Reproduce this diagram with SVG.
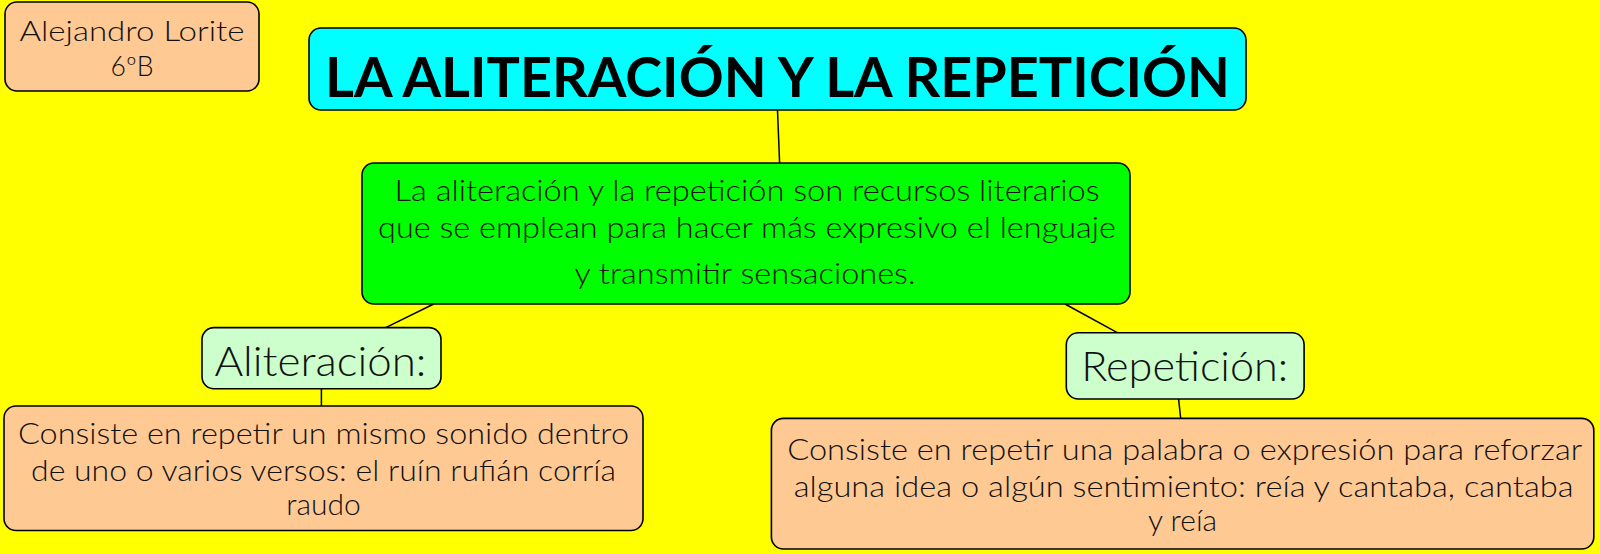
<svg xmlns="http://www.w3.org/2000/svg" width="1600" height="554" viewBox="0 0 1600 554">
<style>
.box{stroke:#000;stroke-width:1.6}
.t{font-family:Lato,"Open Sans","DejaVu Sans",sans-serif;font-weight:300;fill:#111;text-anchor:middle}
.title{font-family:Lato,"Open Sans","DejaVu Sans",sans-serif;font-weight:700;fill:#000;text-anchor:middle}
.ln{stroke:#000;stroke-width:1.5;fill:none}
</style>
<rect width="1600" height="554" fill="#ffff00"/>
<g id="connectors">
<line class="ln" x1="777.5" y1="110" x2="779.6" y2="163"/>
<line class="ln" x1="433.7" y1="304" x2="385.7" y2="327.6"/>
<line class="ln" x1="321.4" y1="388.8" x2="321.4" y2="406"/>
<line class="ln" x1="1065" y1="304" x2="1117.3" y2="332.7"/>
<line class="ln" x1="1178.6" y1="399" x2="1180.7" y2="418.4"/>
</g>
<g id="author">
<rect class="box" x="5" y="2" width="254" height="89" rx="12" fill="#ffc994"/>
<text class="t" x="132" y="41" font-size="26.5" textLength="225" lengthAdjust="spacingAndGlyphs">Alejandro Lorite</text>
<text class="t" x="132" y="76" font-size="26.5">6ºB</text>
</g>
<g id="title">
<rect class="box" x="309" y="28" width="937" height="82" rx="12" fill="#00ffff"/>
<text class="title" x="777.5" y="97" font-size="56" textLength="905" lengthAdjust="spacingAndGlyphs">LA ALITERACIÓN Y LA REPETICIÓN</text>
</g>
<g id="definition">
<rect class="box" x="362" y="163" width="768" height="141" rx="12" fill="#00ff00"/>
<text class="t" x="747" y="201" font-size="28.5" textLength="705" lengthAdjust="spacingAndGlyphs">La aliteración y la repetición son recursos literarios</text>
<text class="t" x="747" y="238" font-size="28.5" textLength="738" lengthAdjust="spacingAndGlyphs">que se emplean para hacer más expresivo el lenguaje</text>
<text class="t" x="745" y="284" font-size="28.5" textLength="341" lengthAdjust="spacingAndGlyphs">y transmitir sensaciones.</text>
</g>
<g id="aliteracion">
<rect class="box" x="202" y="327.6" width="239" height="61.2" rx="12" fill="#ccffcc"/>
<text class="t" x="320.4" y="375.5" font-size="41" textLength="212" lengthAdjust="spacingAndGlyphs">Aliteración:</text>
</g>
<g id="aliteracion-def">
<rect class="box" x="4" y="406" width="639" height="124.5" rx="12" fill="#ffc994"/>
<text class="t" x="323.5" y="444" font-size="30" textLength="611" lengthAdjust="spacingAndGlyphs">Consiste en repetir un mismo sonido dentro</text>
<text class="t" x="323.5" y="481" font-size="30" textLength="585" lengthAdjust="spacingAndGlyphs">de uno o varios versos: el ruín rufián corría</text>
<text class="t" x="323.5" y="515" font-size="30">raudo</text>
</g>
<g id="repeticion">
<rect class="box" x="1066.3" y="332.7" width="237.8" height="66.3" rx="12" fill="#ccffcc"/>
<text class="t" x="1184.7" y="380.6" font-size="41" textLength="207" lengthAdjust="spacingAndGlyphs">Repetición:</text>
</g>
<g id="repeticion-def">
<rect class="box" x="771.4" y="418.4" width="822.4" height="130.6" rx="12" fill="#ffc994"/>
<text class="t" x="1184.7" y="460" font-size="30" textLength="795" lengthAdjust="spacingAndGlyphs">Consiste en repetir una palabra o expresión para reforzar</text>
<text class="t" x="1183.7" y="497" font-size="30" textLength="780" lengthAdjust="spacingAndGlyphs">alguna idea o algún sentimiento: reía y cantaba, cantaba</text>
<text class="t" x="1182.6" y="530.6" font-size="30">y reía</text>
</g>
</svg>
